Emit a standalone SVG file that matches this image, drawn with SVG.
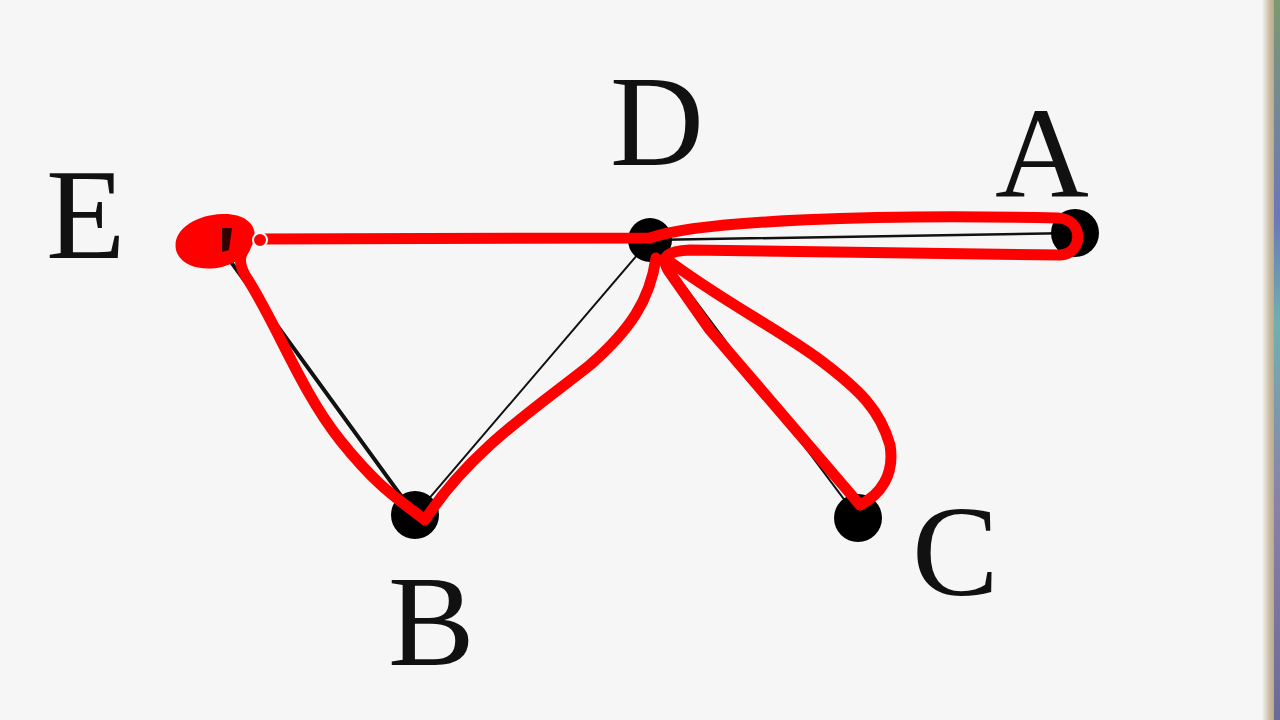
<svg xmlns="http://www.w3.org/2000/svg" width="1280" height="720" viewBox="0 0 1280 720">
<style>
.lbl{font-family:'Liberation Serif',Tinos,'Times New Roman',Times,serif;font-size:130px;fill:#111}
.node{fill:#000}
.edge{stroke:#111;fill:none;stroke-linecap:round}
.red{stroke:#ff0000;stroke-width:11;fill:none;stroke-linecap:round;stroke-linejoin:round}
</style>
<defs>
<linearGradient id="edgeG" x1="0" x2="1" y1="0" y2="0">
<stop offset="0" stop-color="#f5f5f4"/>
<stop offset="0.6" stop-color="#cdbfa6"/>
<stop offset="1" stop-color="#b8a98e"/>
</linearGradient>
<linearGradient id="stripG" x1="0" x2="0" y1="0" y2="1">
<stop offset="0" stop-color="#7a9a70"/>
<stop offset="0.3" stop-color="#6a78b8"/>
<stop offset="0.45" stop-color="#70b0b0"/>
<stop offset="0.7" stop-color="#8a80a8"/>
<stop offset="1" stop-color="#6a6a98"/>
</linearGradient>
</defs>
<rect width="1280" height="720" fill="#f6f6f6"/>
<rect x="1262" y="0" width="12" height="720" fill="url(#edgeG)"/>
<rect x="1274" y="0" width="6" height="720" fill="url(#stripG)"/>
<g id="connectors">
<line class="edge" x1="215" y1="240" x2="650" y2="241" stroke-width="3"/>
<line class="edge" x1="650" y1="240" x2="1075" y2="233" stroke-width="2.5"/>
<line class="edge" x1="215" y1="240" x2="415" y2="515" stroke-width="4"/>
<line class="edge" x1="415" y1="515" x2="650" y2="240" stroke-width="2"/>
<line class="edge" x1="650" y1="240" x2="858" y2="518" stroke-width="2"/>
</g>
<g id="node-E"><circle class="node" cx="215" cy="240" r="22"/><text class="lbl" x="46" y="258" font-family="Liberation Serif, serif">E</text></g>
<g id="node-D"><circle class="node" cx="650" cy="240" r="22"/><text class="lbl" x="610" y="165" font-family="Liberation Serif, serif">D</text></g>
<g id="node-A"><circle class="node" cx="1075" cy="233" r="24"/><text class="lbl" x="995" y="197" font-family="Liberation Serif, serif">A</text></g>
<g id="node-B"><circle class="node" cx="415" cy="515" r="24"/><text class="lbl" x="388" y="665" font-family="Liberation Serif, serif">B</text></g>
<g id="node-C"><circle class="node" cx="858" cy="518" r="24"/><text class="lbl" x="912" y="595" font-family="Liberation Serif, serif">C</text></g>
<g id="annotation">
<path class="red" d="M 260,239 L 650,238 C 700,220 880,214 1058,218 C 1084,219 1084,254 1060,255 L 690,250 C 668,251 660,256 668,270 L 710,330 L 860,505 C 880,495 895,475 890,445 C 880,410 860,390 820,360 C 780,330 720,300 665,258"/>
<path class="red" d="M 656,258 C 650,300 630,330 590,365 C 540,405 470,450 425,520 C 400,500 380,490 340,440 C 300,390 275,320 245,275 C 238,262 240,255 245,248"/>
<path fill="#ff0000" d="M 176,250 C 172,230 195,215 222,214 C 245,213 258,225 254,240 C 251,252 240,262 222,267 C 200,272 180,265 176,250 Z"/>
<path d="M 222,228 L 232,228 L 229,250 L 222,252 Z" fill="#000" opacity="0.8"/>
<circle cx="260" cy="240" r="7" fill="#ff0000" stroke="#ffffff" stroke-width="2"/>
</g>
</svg>
